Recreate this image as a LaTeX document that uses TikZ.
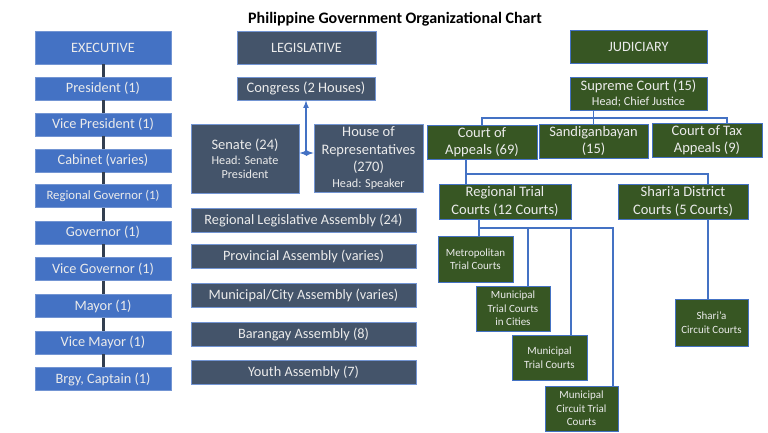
\documentclass[tikz,border=0pt]{standalone}
\usepackage{fontspec}
\setmainfont{Carlito}
\usepackage{tikz}
\usetikzlibrary{positioning}
\usetikzlibrary{arrows}
\definecolor{exblue}{HTML}{4472C4}
\definecolor{lgslate}{HTML}{44546A}
\definecolor{jdgreen}{HTML}{375623}
\definecolor{exline}{HTML}{333F50}
\newcommand{\bigsz}{\fontsize{14.5}{17.5}\selectfont}
\newcommand{\midsz}{\fontsize{14.3}{16}\selectfont}
\newcommand{\hdsz}{\fontsize{12.2}{14}\selectfont}
\newcommand{\smsz}{\fontsize{11}{13.5}\selectfont}
\tikzset{
  box/.style={draw=exblue!75!white, line width=0.8pt, text=white!92!black,
    inner sep=1pt, align=center, font=\midsz},
  exbox/.style={box, fill=exblue, minimum width=136pt, minimum height=23pt},
  lgbox/.style={box, fill=lgslate},
  jdbox/.style={box, fill=jdgreen, draw=exblue},
  exlink/.style={exline, line width=3pt},
  jdlink/.style={exblue, line width=1.6pt},
}
\begin{document}
\begin{tikzpicture}[x=1pt,y=-1pt,>=latex]
\useasboundingbox (0,0) rectangle (768,433);
\node (title) at (395,19) {\fontsize{16}{18}\selectfont\bfseries Philippine Government Organizational Chart};

% executive
\node[exbox, minimum height=33pt] (exec) at (103,47.5) {EXECUTIVE};
\node[exbox] (pres) at (103,88.5) {President (1)};
\node[exbox] (vp) at (103,124.5) {Vice President (1)};
\node[exbox] (cab) at (103,160.5) {Cabinet (varies)};
\node[exbox, font=\fontsize{12.7}{14}\selectfont] (rgov) at (103,196) {Regional Governor (1)};
\node[exbox] (gov) at (103,232.5) {Governor (1)};
\node[exbox] (vgov) at (103,269) {Vice Governor (1)};
\node[exbox] (mayor) at (103,306) {Mayor (1)};
\node[exbox] (vmayor) at (103,342.5) {Vice Mayor (1)};
\node[exbox] (capt) at (103,379) {Brgy, Captain (1)};
\foreach \a/\b in {exec/pres,pres/vp,vp/cab,cab/rgov,rgov/gov,gov/vgov,vgov/mayor,mayor/vmayor,vmayor/capt} {
\draw[exlink] (\a.south) -- (\b.north);
}

% legislative
\node[lgbox, minimum width=139pt, minimum height=33pt] (leg) at (306.5,47.5) {LEGISLATIVE};
\node[lgbox, minimum width=138pt, minimum height=23pt, font=\bigsz] (congress) at (306,88.5) {Congress (2 Houses)};
\node[lgbox, minimum width=108pt, minimum height=69pt, font=\bigsz] (senate) at (245,158.5)
  {Senate (24)\\[-2pt]{\hdsz Head: Senate}\\[-3.5pt]{\hdsz President}};
\node[lgbox, minimum width=109pt, minimum height=68pt, font=\bigsz] (house) at (368.5,158)
  {House of\\Representatives\\(270)\\[-2pt]{\hdsz Head: Speaker}};
\coordinate (link) at (306,153);
\draw[exblue, line width=1.6pt, <->] (link -| senate.east) -- (link -| house.west);
\draw[exblue, line width=1.6pt, ->] (link) -- (congress.south);
\foreach \nm/\y/\txt in {rla/220/{Regional Legislative Assembly (24)},
  prov/256.5/{Provincial Assembly (varies)},
  muni/295/{Municipal/City Assembly (varies)},
  brgy/334/{Barangay Assembly (8)},
  youth/372.5/{Youth Assembly (7)}} {
\node[lgbox, minimum width=225pt, minimum height=24pt] (\nm) at (303.5,\y) {\txt};
}

% judiciary
\node[jdbox, minimum width=137pt, minimum height=33pt] (jud) at (638.5,46.5) {JUDICIARY};
\node[jdbox, minimum width=137pt, minimum height=33pt, font=\bigsz] (supreme) at (638.5,93.5)
  {Supreme Court (15)\\[-3pt]{\hdsz Head; Chief Justice}};
\node[jdbox, minimum width=110pt, minimum height=34pt, font=\bigsz] (appeals) at (482,142) {Court of\\Appeals (69)};
\node[jdbox, minimum width=109pt, minimum height=34pt, font=\bigsz] (sandigan) at (593.5,141) {Sandiganbayan\\(15)};
\node[jdbox, minimum width=110pt, minimum height=34pt, font=\bigsz] (tax) at (707,140) {Court of Tax\\Appeals (9)};
\node[jdbox, minimum width=132pt, minimum height=35pt, font=\bigsz] (rtc) at (505,201.5) {Regional Trial\\Courts (12 Courts)};
\node[jdbox, minimum width=130pt, minimum height=35pt, font=\bigsz] (sdc) at (683,201.5) {Shari'a District\\Courts (5 Courts)};
\node[jdbox, minimum width=75pt, minimum height=46pt, font=\smsz] (metro) at (475.5,259) {Metropolitan\\Trial Courts};
\node[jdbox, minimum width=74pt, minimum height=45pt, font=\smsz] (mtcc) at (513,308.5) {Municipal\\Trial Courts\\in Cities};
\node[jdbox, minimum width=75pt, minimum height=45pt, font=\smsz] (mtc) at (549.5,357.5) {Municipal\\Trial Courts};
\node[jdbox, minimum width=73pt, minimum height=45pt, font=\smsz] (mctc) at (581.5,408.5) {Municipal\\Circuit Trial\\Courts};
\node[jdbox, minimum width=73pt, minimum height=47pt, font=\smsz] (scc) at (711.5,322.5) {Shari'a\\Circuit Courts};

\coordinate (sc) at (727,118);
\draw[jdlink] (sandigan.north) -- (sandigan.north |- supreme.south);
\draw[jdlink] (appeals.north) |- (sc) -- (sc |- tax.north);
\coordinate (ca) at (466,174);
\coordinate (sh) at (708,174);
\draw[jdlink] (ca |- appeals.south) -- (ca |- rtc.north);
\draw[jdlink] (ca) -- (sh) -- (sh |- sdc.north);
\draw[jdlink] (sh |- sdc.south) -- (sh |- scc.north);
\coordinate (rb) at (479,228);
\coordinate (re) at (613,228);
\draw[jdlink] (rb |- rtc.south) -- (rb |- metro.north);
\draw[jdlink] (rb) -- (re) -- (re |- mctc.north);
\draw[jdlink] (528,228) -- (528,0 |- mtcc.north);
\draw[jdlink] (571,228) -- (571,0 |- mtc.north);
\end{tikzpicture}
\end{document}
